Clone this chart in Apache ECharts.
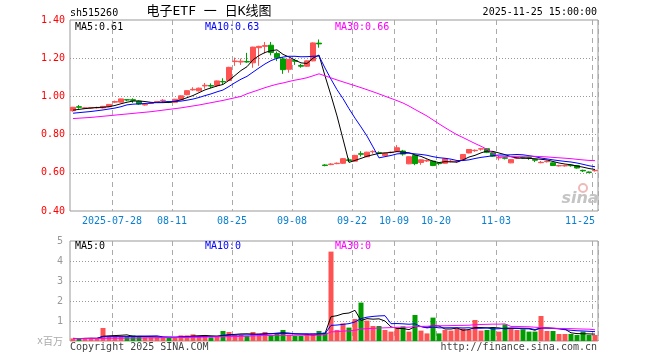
<!DOCTYPE html>
<html><head><meta charset="utf-8">
<script src="https://cdn.jsdelivr.net/npm/echarts@6/dist/echarts.min.js"></script>
<style>html,body{margin:0;padding:0;background:#fff}#c{width:660px;height:360px}</style>
</head><body><div id="c"></div>
<script>
const dates = ['2025-07-17','2025-07-18','2025-07-21','2025-07-22','2025-07-23','2025-07-24','2025-07-25',
'2025-07-28','2025-07-29','2025-07-30','2025-07-31','2025-08-01','2025-08-04','2025-08-05','2025-08-06','2025-08-07','2025-08-08',
'2025-08-11','2025-08-12','2025-08-13','2025-08-14','2025-08-15','2025-08-18','2025-08-19','2025-08-20','2025-08-21','2025-08-22',
'2025-08-25','2025-08-26','2025-08-27','2025-08-28','2025-08-29','2025-09-01','2025-09-02','2025-09-03','2025-09-04','2025-09-05',
'2025-09-08','2025-09-09','2025-09-10','2025-09-11','2025-09-12','2025-09-15','2025-09-16','2025-09-17','2025-09-18','2025-09-19',
'2025-09-22','2025-09-23','2025-09-24','2025-09-25','2025-09-26','2025-09-29','2025-09-30','2025-10-09','2025-10-10',
'2025-10-13','2025-10-14','2025-10-15','2025-10-16','2025-10-17','2025-10-20','2025-10-21','2025-10-22','2025-10-23','2025-10-24',
'2025-10-27','2025-10-28','2025-10-29','2025-10-30','2025-10-31','2025-11-03','2025-11-04','2025-11-05','2025-11-06','2025-11-07',
'2025-11-10','2025-11-11','2025-11-12','2025-11-13','2025-11-14','2025-11-17','2025-11-18','2025-11-19','2025-11-20','2025-11-21',
'2025-11-24','2025-11-25'];
const opens = [0.925,0.946,0.938,0.939,0.940,0.940,0.946,0.970,0.970,0.983,0.983,0.975,0.955,0.963,0.969,0.978,0.972,0.969,0.984,1.009,
1.034,1.029,1.055,1.057,1.057,1.078,1.083,1.182,1.180,1.183,1.176,1.255,1.262,1.268,1.224,1.196,1.142,1.187,1.162,1.158,
1.186,1.279,0.641,0.643,0.648,0.650,0.668,0.661,0.700,0.684,0.710,0.705,0.690,0.706,0.713,0.714,0.647,0.691,0.654,0.662,
0.661,0.651,0.650,0.659,0.658,0.670,0.704,0.716,0.724,0.726,0.705,0.678,0.679,0.652,0.676,0.680,0.680,0.669,0.653,0.658,
0.652,0.636,0.636,0.640,0.638,0.613,0.604,0.611];
const closes = [0.943,0.943,0.940,0.942,0.942,0.948,0.958,0.973,0.987,0.981,0.979,0.960,0.959,0.965,0.973,0.980,0.968,0.985,1.003,1.030,
1.037,1.043,1.058,1.054,1.081,1.076,1.152,1.185,1.184,1.180,1.258,1.262,1.266,1.230,1.202,1.140,1.194,1.184,1.158,1.186,
1.280,1.275,0.638,0.646,0.650,0.674,0.664,0.691,0.697,0.708,0.712,0.702,0.702,0.708,0.731,0.698,0.684,0.648,0.668,0.665,
0.638,0.648,0.673,0.661,0.660,0.696,0.722,0.718,0.726,0.707,0.687,0.680,0.676,0.669,0.678,0.678,0.677,0.666,0.655,0.660,
0.638,0.638,0.638,0.637,0.625,0.610,0.602,0.613];
const lows = [0.920,0.935,0.935,0.936,0.936,0.937,0.944,0.965,0.968,0.975,0.966,0.956,0.952,0.960,0.967,0.972,0.965,0.966,0.982,1.006,
1.030,1.026,1.040,1.044,1.050,1.065,1.081,1.160,1.165,1.176,1.150,1.160,1.225,1.215,1.185,1.118,1.124,1.165,1.150,1.155,
1.184,1.255,0.634,0.640,0.645,0.647,0.657,0.658,0.685,0.682,0.700,0.697,0.688,0.702,0.710,0.690,0.645,0.640,0.642,0.657,
0.635,0.640,0.648,0.655,0.652,0.668,0.702,0.710,0.716,0.703,0.684,0.665,0.670,0.650,0.672,0.674,0.668,0.656,0.650,0.654,
0.636,0.633,0.633,0.632,0.622,0.604,0.598,0.606];
const highs = [0.945,0.955,0.942,0.944,0.946,0.950,0.960,0.978,0.988,0.984,0.990,0.978,0.961,0.967,0.975,0.986,0.974,0.987,1.005,1.032,
1.048,1.046,1.070,1.068,1.083,1.095,1.155,1.203,1.198,1.228,1.260,1.265,1.285,1.285,1.235,1.205,1.195,1.196,1.170,1.188,
1.283,1.298,0.645,0.650,0.654,0.677,0.678,0.694,0.713,0.710,0.718,0.712,0.705,0.712,0.745,0.720,0.686,0.694,0.670,0.670,
0.663,0.655,0.675,0.668,0.666,0.698,0.724,0.722,0.730,0.728,0.707,0.686,0.682,0.671,0.682,0.684,0.684,0.671,0.662,0.664,
0.654,0.642,0.642,0.643,0.640,0.616,0.607,0.618];
const volumes = [0.13,0.11,0.15,0.15,0.12,0.65,0.22,0.22,0.22,0.22,0.28,0.22,0.18,0.18,0.18,0.15,0.18,0.18,0.28,0.28,
0.33,0.25,0.25,0.18,0.22,0.50,0.45,0.30,0.30,0.25,0.45,0.38,0.45,0.30,0.38,0.55,0.30,0.25,0.25,0.30,
0.38,0.50,0.43,4.47,0.55,0.88,0.67,1.10,1.92,1.02,0.75,0.75,0.55,0.47,0.62,0.73,0.47,1.30,0.52,0.38,
1.17,0.38,0.55,0.52,0.62,0.62,0.55,1.05,0.52,0.55,0.68,0.47,0.83,0.62,0.55,0.58,0.47,0.47,1.25,0.50,
0.50,0.35,0.35,0.35,0.30,0.47,0.30,0.30];
// moving-average values for days whose window reaches before the first visible day
const ma5Head = [0.928,0.932,0.936,0.939];
const ma10Head = [0.912,0.915,0.918,0.921,0.925,0.929,0.934,0.939,0.946];
const ma30Head = [0.884,0.886,0.888,0.890,0.893,0.896,0.899,0.902,0.905,0.908,0.911,0.914,0.917,0.920,0.924,
0.928,0.932,0.936,0.940,0.945,0.950,0.955,0.961,0.967,0.973,0.979,0.986,0.993,1.000];
const volMa30Head = [0.12,0.12,0.12,0.13,0.13,0.13,0.14,0.14,0.14,0.15,0.15,0.15,0.16,0.16,0.16,
0.17,0.17,0.17,0.18,0.18,0.19,0.19,0.20,0.20,0.21,0.21,0.22,0.22,0.23];
const labelDates = ['2025-07-28','2025-08-11','2025-08-25','2025-09-08','2025-09-22','2025-10-09','2025-10-20','2025-11-03','2025-11-25'];
const tickLabels = ['2025-07-28','08-11','08-25','09-08','09-22','10-09','10-20','11-03','11-25'];

function ma(vals, n, head) {
  return vals.map((v, i) => {
    if (i < n - 1) {
      if (head) return head[i];
      const s = vals.slice(0, i + 1); return s.reduce((a, b) => a + b, 0) / s.length;
    }
    let s = 0; for (let k = i - n + 1; k <= i; k++) s += vals[k];
    return s / n;
  });
}
const ma5 = ma(closes, 5, ma5Head), ma10 = ma(closes, 10, ma10Head), ma30 = ma(closes, 30, ma30Head);
const vma5 = ma(volumes, 5), vma10 = ma(volumes, 10), vma30 = ma(volumes, 30, volMa30Head);
const trunc2 = v => (Math.floor(v * 100 + 1e-9) / 100).toFixed(2);

const UP = '#ff5252', DOWN = '#009c00';
const MONO = '"DejaVu Sans Mono", monospace';
const candles = opens.map((o, i) => [o, closes[i], lows[i], highs[i]]);
const volBars = volumes.map((v, i) => ({ value: v, itemStyle: { color: closes[i] >= opens[i] ? UP : DOWN } }));
const showTick = (i, v) => labelDates.indexOf(v) >= 0;
const vsplit = { show: true, interval: showTick, lineStyle: { color: '#aaa', width: 1, type: [5, 4] } };
const hsplit = { show: true, showMinLine: false, showMaxLine: false, lineStyle: { color: '#999', width: 1, type: [1, 2] } };
const lineS = (data, color, xi, yi) => ({ type: 'line', data, xAxisIndex: xi, yAxisIndex: yi, showSymbol: false, symbol: 'none',
  silent: true, lineStyle: { color, width: 1 }, z: 5 });

const chart = echarts.init(document.getElementById('c'), null, { renderer: 'canvas' });
chart.setOption({
  animation: false,
  backgroundColor: '#fff',
  grid: [
    { left: 70, right: 62, top: 20, height: 191, show: true, borderColor: '#999', borderWidth: 1 },
    { left: 70, right: 62, top: 241, height: 100, show: true, borderColor: '#999', borderWidth: 1 }
  ],
  xAxis: [
    { type: 'category', data: dates, gridIndex: 0, boundaryGap: true,
      axisLine: { show: false }, axisTick: { show: false }, splitLine: vsplit,
      axisLabel: { interval: showTick, margin: 5,
        formatter: v => { const k = labelDates.indexOf(v); return (k === labelDates.length - 1 ? '{e|' : '{n|') + tickLabels[k] + '}'; },
        rich: { n: { color: '#0a7fd2', fontFamily: MONO, fontSize: 10, padding: [0, 6, 0, 0] },
                e: { color: '#0a7fd2', fontFamily: MONO, fontSize: 10, padding: [0, 30, 0, 0] } } } },
    { type: 'category', data: dates, gridIndex: 1, boundaryGap: true,
      axisLine: { show: false }, axisTick: { show: false }, axisLabel: { show: false }, splitLine: vsplit }
  ],
  yAxis: [
    { type: 'value', gridIndex: 0, min: 0.4, max: 1.4, interval: 0.2, scale: false,
      axisLine: { show: false }, axisTick: { show: false }, splitLine: hsplit,
      axisLabel: { color: '#ff0000', fontFamily: MONO, fontSize: 10, margin: 5, formatter: v => v.toFixed(2) } },
    { type: 'value', gridIndex: 1, min: 0, max: 5, interval: 1,
      axisLine: { show: false }, axisTick: { show: false }, splitLine: hsplit,
      axisLabel: { color: '#999', fontFamily: MONO, fontSize: 10, margin: 7,
        formatter: v => v === 0 ? '{u|x}{c|百万}' : String(v),
        rich: { u: { color: '#aaa', fontFamily: MONO, fontSize: 10 }, c: { color: '#aaa', fontFamily: '"Noto Sans CJK SC"', fontSize: 10 } } } }
  ],
  series: [
    { type: 'candlestick', data: candles, xAxisIndex: 0, yAxisIndex: 0, barWidth: 5, silent: true,
      itemStyle: { color: UP, color0: DOWN, borderColor: UP, borderColor0: DOWN, borderWidth: 1 } },
    lineS(ma5, '#000000', 0, 0), lineS(ma10, '#0000ff', 0, 0), lineS(ma30, '#ff00ff', 0, 0),
    { type: 'bar', data: volBars, xAxisIndex: 1, yAxisIndex: 1, barWidth: 5, silent: true },
    lineS(vma5, '#000000', 1, 1), lineS(vma10, '#0000ff', 1, 1), lineS(vma30, '#ff00ff', 1, 1)
  ],
  graphic: [
    { type: 'text', style: { text: 'sh515260', x: 70, y: 13, fill: '#000', font: '10px ' + MONO, textVerticalAlign: 'middle' } },
    { type: 'text', style: { text: '电子ETF 一 日K线图', x: 209, y: 12, fill: '#000', font: '13px "DejaVu Sans Mono", "Noto Sans CJK SC"', textAlign: 'center', textVerticalAlign: 'middle' } },
    { type: 'text', style: { text: '2025-11-25 15:00:00', x: 597, y: 12, fill: '#000', font: '10px ' + MONO, textAlign: 'right', textVerticalAlign: 'middle' } },
    { type: 'text', style: { text: 'MA5:' + trunc2(ma5[ma5.length - 1]), x: 75, y: 27, fill: '#000', font: '10px ' + MONO, textVerticalAlign: 'middle' } },
    { type: 'text', style: { text: 'MA10:' + trunc2(ma10[ma10.length - 1]), x: 205, y: 27, fill: '#0000ff', font: '10px ' + MONO, textVerticalAlign: 'middle' } },
    { type: 'text', style: { text: 'MA30:' + trunc2(ma30[ma30.length - 1]), x: 335, y: 27, fill: '#ff00ff', font: '10px ' + MONO, textVerticalAlign: 'middle' } },
    { type: 'text', style: { text: 'MA5:0', x: 75, y: 246, fill: '#000', font: '10px ' + MONO, textVerticalAlign: 'middle' } },
    { type: 'text', style: { text: 'MA10:0', x: 205, y: 246, fill: '#0000ff', font: '10px ' + MONO, textVerticalAlign: 'middle' } },
    { type: 'text', style: { text: 'MA30:0', x: 335, y: 246, fill: '#ff00ff', font: '10px ' + MONO, textVerticalAlign: 'middle' } },
    { type: 'text', style: { text: 'Copyright 2025 SINA.COM', x: 70, y: 347, fill: '#444', font: '10px ' + MONO, textVerticalAlign: 'middle' } },
    { type: 'text', style: { text: 'http://finance.sina.com.cn', x: 597, y: 347, fill: '#444', font: '10px ' + MONO, textAlign: 'right', textVerticalAlign: 'middle' } },
    { type: 'circle', shape: { cx: 583, cy: 188, r: 4 }, style: { fill: 'none', stroke: '#f0b8b8', lineWidth: 2 }, z: 1 },
    { type: 'text', style: { text: 'sina', x: 580, y: 199, fill: '#c4c4c4', font: 'italic bold 16px "DejaVu Sans"', textAlign: 'center', textVerticalAlign: 'middle' }, z: 1 }
  ]
});
</script></body></html>
